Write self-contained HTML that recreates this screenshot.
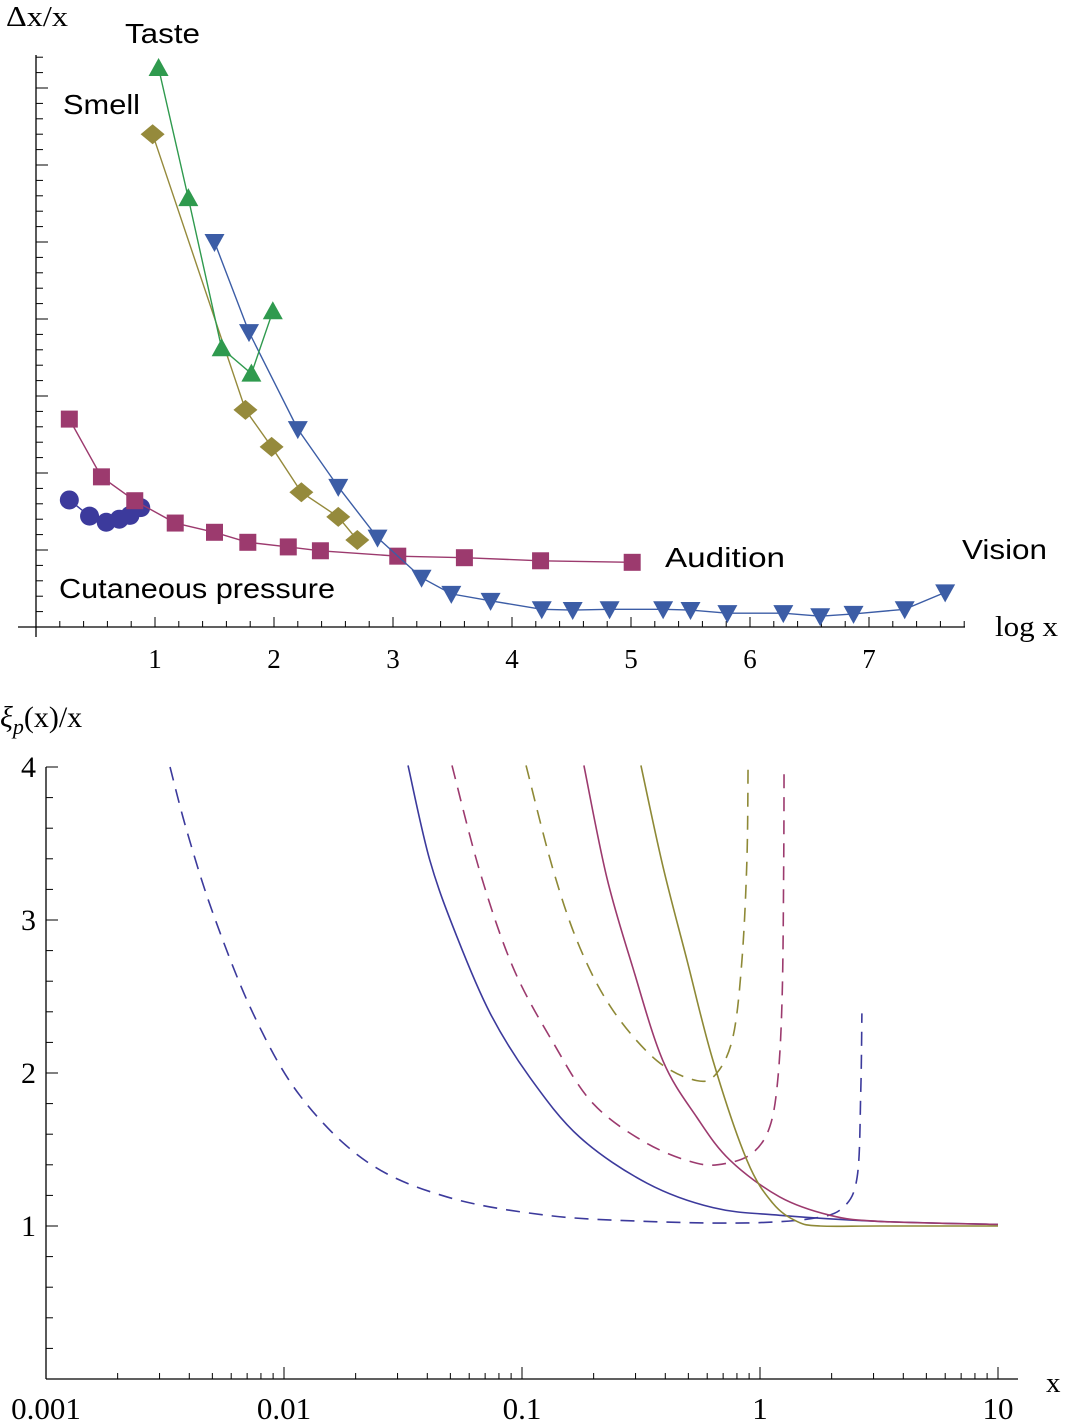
<!DOCTYPE html>
<html><head><meta charset="utf-8"><style>
html,body{margin:0;padding:0;background:#fff}
svg{display:block}
.serif{font-family:"Liberation Serif",serif}
.sans{font-family:"Liberation Sans",sans-serif}
</style></head><body>
<svg id="chart" width="1065" height="1420" viewBox="0 0 1065 1420" xmlns="http://www.w3.org/2000/svg">
<g id="topchart"></g>
<g id="botchart"></g>
</svg>
<script>
// ---- Top chart data (log x, Δx/x arbitrary units) ----
const tasteX=[1.03,1.28,1.56,1.81,1.99];
const tasteY=[7.26,5.57,3.62,3.29,4.10];
const smellX=[0.98,1.76,1.98,2.23,2.54,2.70];
const smellY=[6.40,2.82,2.34,1.75,1.43,1.13];
const visionX=[1.50,1.79,2.20,2.54,2.87,3.24,3.49,3.82,4.25,4.51,4.82,5.27,5.50,5.81,6.28,6.59,6.87,7.30,7.64];
const visionY=[5.00,3.83,2.57,1.82,1.16,0.64,0.43,0.34,0.23,0.22,0.23,0.23,0.22,0.18,0.18,0.14,0.17,0.23,0.45];
const auditionX=[0.28,0.55,0.83,1.17,1.50,1.78,2.12,2.39,3.04,3.60,4.24,5.01];
const auditionY=[2.70,1.95,1.64,1.35,1.23,1.10,1.04,0.99,0.92,0.90,0.86,0.84];
const cutX=[0.28,0.45,0.59,0.70,0.79,0.88];
const cutY=[1.65,1.44,1.36,1.40,1.45,1.55];
const topXTicks=["1","2","3","4","5","6","7"];
// ---- Bottom chart data (x, ξp(x)/x) ----
const blueSolidX=[0.0332,0.0410,0.0533,0.0735,0.108,0.175,0.335,0.635,1.21,3.19,10];
const blueSolidY=[4.01,3.39,2.89,2.39,1.97,1.58,1.28,1.12,1.07,1.03,1.01];
const blueDashX=[0.00332,0.00391,0.00504,0.00741,0.0117,0.0223,0.0484,0.127,0.335,0.881,1.67,2.23,2.56,2.65,2.68];
const blueDashY=[4.00,3.58,3.04,2.39,1.85,1.42,1.19,1.07,1.03,1.02,1.05,1.12,1.32,1.87,2.39];
const magSolidX=[0.182,0.227,0.292,0.391,0.543,0.748,1.21,1.97,3.19,10];
const magSolidY=[4.01,3.28,2.69,2.08,1.71,1.43,1.19,1.07,1.03,1.01];
const magDashX=[0.0508,0.0667,0.0917,0.135,0.199,0.335,0.543,0.726,0.935,1.10,1.19,1.24,1.258,1.262];
const magDashY=[4.01,3.31,2.69,2.20,1.80,1.54,1.41,1.41,1.48,1.65,1.97,2.52,3.39,4.01];
const oliveSolidX=[0.316,0.391,0.493,0.635,0.881,1.13,1.43,1.79,3.19,10];
const oliveSolidY=[4.01,3.35,2.74,2.08,1.43,1.15,1.03,1.00,1.00,1.00];
const oliveDashX=[0.104,0.135,0.175,0.241,0.369,0.543,0.659,0.771,0.840,0.881,0.891];
const oliveDashY=[4.01,3.33,2.82,2.41,2.08,1.95,2.00,2.24,2.74,3.39,4.01];
const botXTicks=["0.001","0.01","0.1","1","10"];
const botYTicks=["1","2","3","4"];

const NS="http://www.w3.org/2000/svg";
function mk(tag,attrs,parent,text){const el=document.createElementNS(NS,tag);for(const k in attrs)el.setAttribute(k,attrs[k]);if(text!==undefined)el.textContent=text;parent.appendChild(el);return el;}
const topG=document.getElementById('topchart'), botG=document.getElementById('botchart');

const tx=v=>36+v*119, ty=v=>627-v*77;
let e;
e=mk('line',{x1:18,y1:627,x2:965,y2:627,stroke:'#000','stroke-width':1.3},topG);


e=mk('line',{x1:36,y1:55,x2:36,y2:637,stroke:'#000','stroke-width':1.3},topG);


for(let i=1;i<=39;i++){const px=36+i*119/5;if(px>965)break;mk('line',{x1:px,y1:627,x2:px,y2:627-(i%5==0?10:6),stroke:'#000','stroke-width':1},topG);}
for(let i=1;i<=37;i++){const py=627-i*77/5;if(py<56)break;mk('line',{x1:36,y1:py,x2:36+(i%5==0?12:7),y2:py,stroke:'#000','stroke-width':1},topG);}
topXTicks.forEach(t=>{e=mk('text',{x:tx(+t),y:668,'text-anchor':'middle','font-size':27,class:'serif'},topG,t);

});
function lab(x,y,t,cls,fs,name,par,w){const a={x:x,y:y,'font-size':fs,class:cls};if(w){a.textLength=w;a.lengthAdjust='spacingAndGlyphs';}const el=mk('text',a,par,t);


return el;}
lab(6,26,'Δx/x','serif',29,'top-y-axis-title',topG,62);
lab(995,636,'log x','serif',29,'top-x-axis-title',topG,63);
lab(125,43,'Taste','sans',28,'taste-label',topG,75);
lab(63,114,'Smell','sans',28,'smell-label',topG,77);
lab(59,598,'Cutaneous pressure','sans',28,'cutaneous-label',topG,276);
lab(665,567,'Audition','sans',28,'audition-label',topG,120);
lab(962,559,'Vision','sans',28,'vision-label',topG,85);

function series(X,Y,color,marker,name){
  const g=mk('g',{},topG);
  
  
  const pts=X.map((x,i)=>tx(x)+','+ty(Y[i])).join(' ');
  const l=mk('polyline',{points:pts,fill:'none',stroke:color,'stroke-width':1.4},g);
  
  
  X.forEach((x,i)=>{const cx=tx(x),cy=ty(Y[i]);let m;
    if(marker=='up')m=mk('polygon',{points:`${cx},${cy-10} ${cx-10},${cy+8} ${cx+10},${cy+8}`,fill:color},g);
    else if(marker=='down')m=mk('polygon',{points:`${cx},${cy+10} ${cx-10},${cy-8} ${cx+10},${cy-8}`,fill:color},g);
    else if(marker=='diamond')m=mk('polygon',{points:`${cx},${cy-10} ${cx+12},${cy} ${cx},${cy+10} ${cx-12},${cy}`,fill:color},g);
    else if(marker=='square')m=mk('rect',{x:cx-8.5,y:cy-8.5,width:17,height:17,fill:color},g);
    else m=mk('circle',{cx:cx,cy:cy,r:9.5,fill:color},g);
    
    });
}
series(cutX,cutY,'#3c3a9c','circle','cutaneous');
series(auditionX,auditionY,'#9c3a6e','square','audition');
series(smellX,smellY,'#958a3c','diamond','smell');
series(visionX,visionY,'#3c5da6','down','vision');
series(tasteX,tasteY,'#2f9a4e','up','taste');

const bx=v=>46+(Math.log10(v)+3)*238, by=v=>1379-v*153;
e=mk('line',{x1:46,y1:1379,x2:1018,y2:1379,stroke:'#000','stroke-width':1.3},botG);


e=mk('line',{x1:46,y1:767,x2:46,y2:1379,stroke:'#000','stroke-width':1.3},botG);


for(let d=-3;d<=1;d++){for(let k=1;k<=9;k++){const v=k*Math.pow(10,d);if(v>10.01)break;if(d==-3&&k==1)continue;mk('line',{x1:bx(v),y1:1379,x2:bx(v),y2:1379-(k==1?12:6),stroke:'#000','stroke-width':1},botG);}}
for(let i=1;i<=20;i++){const v=i*0.2;mk('line',{x1:46,y1:by(v),x2:46+(i%5==0?12:7),y2:by(v),stroke:'#000','stroke-width':1},botG);}
botXTicks.forEach(t=>{e=mk('text',{x:bx(+t),y:1419,'text-anchor':'middle','font-size':31,class:'serif'},botG,t);

});
botYTicks.forEach(t=>{e=mk('text',{x:36,y:by(+t)+10,'text-anchor':'end','font-size':30,class:'serif'},botG,t);

});
e=mk('text',{x:0,y:727,'font-size':30,class:'serif'},botG);


mk('tspan',{'font-style':'italic'},e,'ξ');
mk('tspan',{'font-style':'italic','font-size':22,dy:7},e,'p');
mk('tspan',{dy:-7},e,'(x)/x');
lab(1046,1392,'x','serif',29,'bottom-x-axis-title',botG);

function smoothPath(P){
  let d='M'+P[0][0]+','+P[0][1];
  for(let i=0;i<P.length-1;i++){
    const p0=P[Math.max(i-1,0)],p1=P[i],p2=P[i+1],p3=P[Math.min(i+2,P.length-1)];
    const c1x=p1[0]+(p2[0]-p0[0])/6,c1y=p1[1]+(p2[1]-p0[1])/6;
    const c2x=p2[0]-(p3[0]-p1[0])/6,c2y=p2[1]-(p3[1]-p1[1])/6;
    d+=` C${c1x},${c1y} ${c2x},${c2y} ${p2[0]},${p2[1]}`;
  }
  return d;
}
function curve(X,Y,color,dash,name){
  const P=X.map((x,i)=>[bx(x),by(Y[i])]);
  const a={d:smoothPath(P),fill:'none',stroke:color,'stroke-width':1.6};
  if(dash)a['stroke-dasharray']='14 9';
  const l=mk('path',a,botG);
  
  
}
curve(blueDashX,blueDashY,'#3c3a9c',true,'blue-dashed-curve');
curve(blueSolidX,blueSolidY,'#3c3a9c',false,'blue-solid-curve');
curve(magDashX,magDashY,'#9c3a6e',true,'magenta-dashed-curve');
curve(magSolidX,magSolidY,'#9c3a6e',false,'magenta-solid-curve');
curve(oliveDashX,oliveDashY,'#8e8936',true,'olive-dashed-curve');
curve(oliveSolidX,oliveSolidY,'#8e8936',false,'olive-solid-curve');
</script>
</body></html>
